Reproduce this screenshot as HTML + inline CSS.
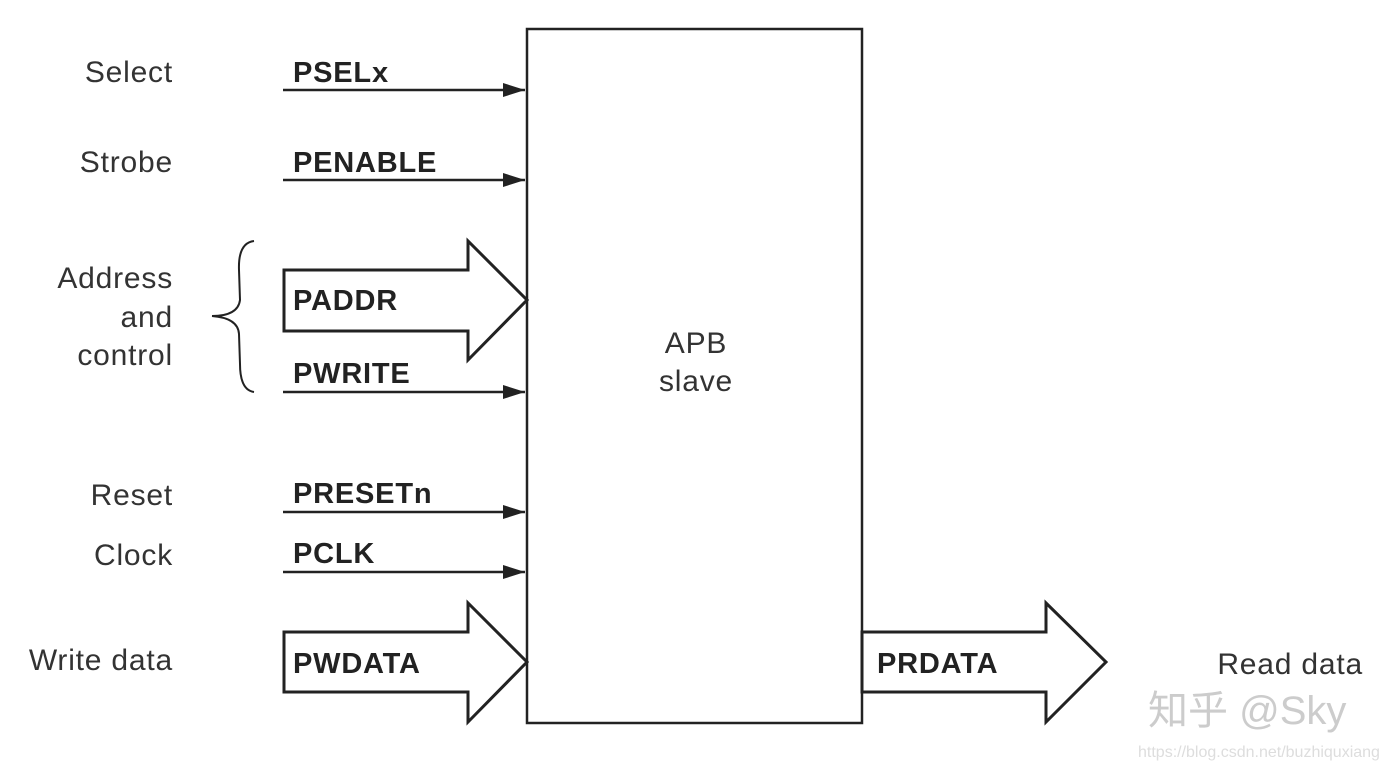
<!DOCTYPE html>
<html><head><style>body{margin:0;background:#fff}</style></head><body>
<svg width="1387" height="771" xmlns="http://www.w3.org/2000/svg" font-family="Liberation Sans, sans-serif">
<defs><marker id="a" markerWidth="22" markerHeight="14" refX="22" refY="7" orient="auto" markerUnits="userSpaceOnUse"><path d="M0,0 L22,7 L0,14 Z" fill="#222"/></marker></defs>
<g stroke="#222" stroke-width="2.5" fill="none">
<rect x="527" y="29" width="335" height="694"/>
<line x1="283" y1="90" x2="525" y2="90" marker-end="url(#a)"/>
<line x1="283" y1="180" x2="525" y2="180" marker-end="url(#a)"/>
<line x1="283" y1="392" x2="525" y2="392" marker-end="url(#a)"/>
<line x1="283" y1="512" x2="525" y2="512" marker-end="url(#a)"/>
<line x1="283" y1="572" x2="525" y2="572" marker-end="url(#a)"/>
<path d="M284,270 H468 V241 L527,300 L468,360 V331 H284 Z" stroke-width="3"/>
<path d="M284,632 H468 V603 L527,662 L468,722 V692 H284 Z" stroke-width="3"/>
<path d="M862,632 H1046 V603 L1106,662 L1046,722 V692 H862 Z" stroke-width="3"/>
<path d="M254,241 Q238,243 239,270 L240,300 Q238,316 212,316 Q238,318 239,334 L240,364 Q240,390 254,392" stroke-width="2"/>
</g>
<g font-weight="bold" font-size="29" fill="#222" letter-spacing="0.8">
<text x="293" y="82">PSELx</text>
<text x="293" y="172">PENABLE</text>
<text x="293" y="310">PADDR</text>
<text x="293" y="383">PWRITE</text>
<text x="293" y="503">PRESETn</text>
<text x="293" y="563">PCLK</text>
<text x="293" y="673">PWDATA</text>
<text x="877" y="673">PRDATA</text>
</g>
<g font-size="30" fill="#333" text-anchor="end" letter-spacing="0.8">
<text x="173" y="82">Select</text>
<text x="173" y="172">Strobe</text>
<text x="173" y="288">Address</text>
<text x="173" y="327">and</text>
<text x="173" y="365">control</text>
<text x="173" y="505">Reset</text>
<text x="173" y="565">Clock</text>
<text x="173" y="670">Write data</text>
</g>
<g font-size="30" fill="#333" text-anchor="middle" letter-spacing="0.8">
<text x="696" y="353">APB</text>
<text x="696" y="391">slave</text>
</g>
<text x="1363" y="674" font-size="30" fill="#333" text-anchor="end" letter-spacing="0.8">Read data</text>
<text x="1148" y="724" font-size="40" fill="#ccc" font-family="Liberation Sans, Noto Sans CJK SC, sans-serif">知乎 @Sky</text>
<text x="1138" y="757" font-size="16" fill="#ddd">https://blog.csdn.net/buzhiquxiang</text>
</svg>
</body></html>
